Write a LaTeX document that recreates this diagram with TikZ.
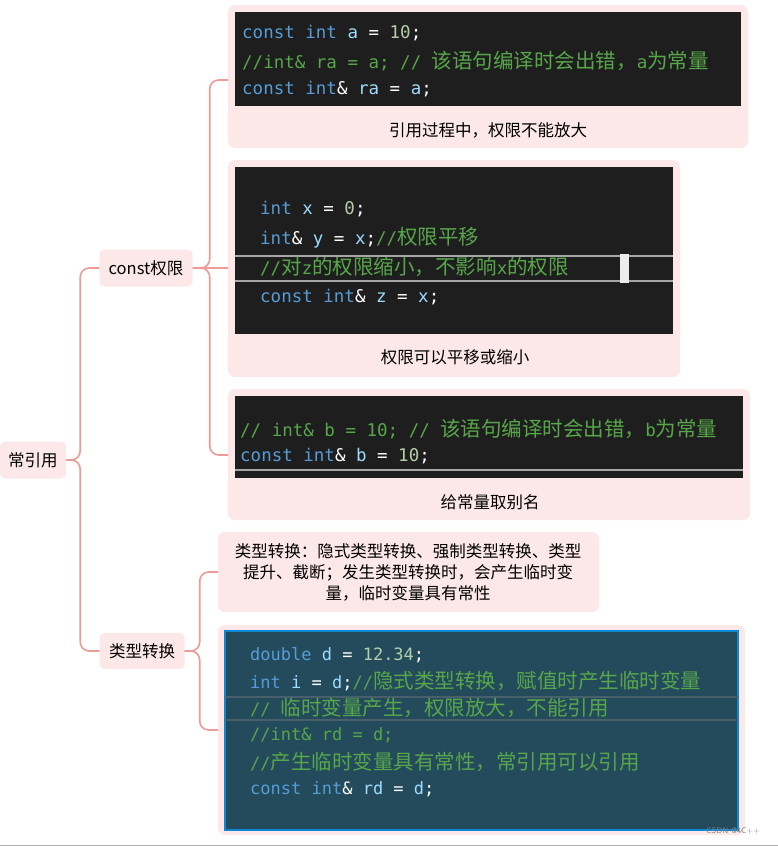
\documentclass[tikz,border=0pt]{standalone}
\usepackage{fontspec}
\setmonofont{DejaVu Sans Mono}
\newfontfamily\cjk{Noto Sans CJK SC}
\usetikzlibrary{positioning}
\definecolor{pinkfill}{HTML}{FCE8E8}
\definecolor{branchc}{HTML}{EE9A98}
\definecolor{codebg}{HTML}{1E1E1E}
\definecolor{tealbg}{HTML}{234B5C}
\definecolor{kw}{HTML}{569CD6}
\definecolor{idc}{HTML}{9CDCFE}
\definecolor{num}{HTML}{B5CEA8}
\definecolor{cmt}{HTML}{57A64A}
\newcommand{\zh}[1]{{\cjk\fontsize{20.5}{20}\selectfont #1}}
\newcommand{\K}[1]{\textcolor{kw}{#1}}
\newcommand{\I}[1]{\textcolor{idc}{#1}}
\newcommand{\N}[1]{\textcolor{num}{#1}}
\newcommand{\C}[1]{\textcolor{cmt}{#1}}

\begin{document}
\begin{tikzpicture}[x=1pt,y=-1pt,
    topic/.style={fill=pinkfill,rounded corners=5pt,inner sep=0pt,font=\cjk\fontsize{16.5}{18}\selectfont},
    card/.style={fill=pinkfill,rounded corners=7pt},
    code/.style={anchor=west,inner sep=0pt,text=white,font=\ttfamily\fontsize{17.5}{20}\selectfont},
    caption/.style={font=\cjk\fontsize{16.5}{21}\selectfont},
    branch/.style={draw=branchc,line width=1.6pt,rounded corners=9pt},
    scan/.style={draw=gray!70,line width=2pt}]
  \useasboundingbox (0,0) rectangle (778,846);

  % mind map topics
  \node[topic,minimum width=66pt,minimum height=37pt] (root) at (33,460) {常引用};
  \node[topic,minimum width=93pt,minimum height=37pt] (perm) at (146,268) {const权限};
  \node[topic,minimum width=85pt,minimum height=36pt] (conv) at (142,651) {类型转换};

  % cards
  \fill[card] (228,5) rectangle (748,148);
  \fill[codebg] (235,12) rectangle (741,106);
  \node[caption] (cap1) at (488,130) {引用过程中，权限不能放大};
  \coordinate (card1) at (228,80);

  \fill[card] (228,160) rectangle (680,377);
  \fill[codebg] (235,167) rectangle (673,334);
  \node[caption] (cap2) at (455,357) {权限可以平移或缩小};
  \coordinate (card2) at (228,268);

  \fill[card] (228,389) rectangle (750,520);
  \fill[codebg] (235,396) rectangle (743,478);
  \node[caption] (cap3) at (490,502) {给常量取别名};
  \coordinate (card3) at (228,455);

  \fill[card] (218,532) rectangle (599,612);
  \node[caption,align=center] (note) at (408,572) {类型转换：隐式类型转换、强制类型转换、类型\\提升、截断；发生类型转换时，会产生临时变\\量，临时变量具有常性};
  \coordinate (cardA) at (218,572);

  \fill[card] (218,625) rectangle (745,835);
  \draw[fill=tealbg,draw=cyan!70!blue,line width=1.5pt] (225,631) rectangle (738,830);
  \coordinate (cardB) at (218,730);

  % screenshot scan lines
  \draw[scan] (235,256) -- (673,256);
  \draw[scan] (235,281) -- (673,281);
  \fill[white!85!gray] (620,254) rectangle (629,283);
  \draw[scan] (235,470) -- (743,470);
  \draw[scan,draw=gray!40!tealbg] (225,697) -- (738,697);
  \draw[scan,draw=gray!40!tealbg] (225,720) -- (738,720);

  % code lines
  \node[code] (a1) at (242,33) {\K{const int} \I{a} = \N{10};};
  \node[code] (a2) at (242,61) {\C{//int\& ra = a; // \zh{该语句编译时会出错，}a\zh{为常量}}};
  \node[code] (a3) at (242,89) {\K{const int}\& \I{ra} = \I{a};};

  \node[code] (b1) at (260,209) {\K{int} \I{x} = \N{0};};
  \node[code] (b2) at (260,238) {\K{int}\& \I{y} = \I{x};\C{//\zh{权限平移}}};
  \node[code] (b3) at (260,267) {\C{//\zh{对}z\zh{的权限缩小，不影响}x\zh{的权限}}};
  \node[code] (b4) at (260,297) {\K{const int}\& \I{z} = \I{x};};

  \node[code] (c1) at (240,429) {\C{// int\& b = 10; // \zh{该语句编译时会出错，}b\zh{为常量}}};
  \node[code] (c2) at (240,456) {\K{const int}\& \I{b} = \N{10};};

  \node[code,font=\ttfamily\fontsize{17}{20}\selectfont] (d1) at (250,655) {\K{double} \I{d} = \N{12.34};};
  \node[code,font=\ttfamily\fontsize{17}{20}\selectfont] (d2) at (250,681) {\K{int} \I{i} = \I{d};\C{//\zh{隐式类型转换，赋值时产生临时变量}}};
  \node[code,font=\ttfamily\fontsize{17}{20}\selectfont] (d3) at (250,708) {\C{// \zh{临时变量产生，权限放大，不能引用}}};
  \node[code,font=\ttfamily\fontsize{17}{20}\selectfont] (d4) at (250,735) {\C{//int\& rd = d;}};
  \node[code,font=\ttfamily\fontsize{17}{20}\selectfont] (d5) at (250,762) {\C{//\zh{产生临时变量具有常性，常引用可以引用}}};
  \node[code,font=\ttfamily\fontsize{17}{20}\selectfont] (d6) at (250,789) {\K{const int}\& \I{rd} = \I{d};};

  % branches
  \draw[branch] (root.east) -- ++(14,0) |- (perm.west);
  \draw[branch] (root.east) -- ++(14,0) |- (conv.west);
  \draw[branch] (perm.east) -- ++(17,0) |- (card1);
  \draw[branch] (perm.east) -- (card2);
  \draw[branch] (perm.east) -- ++(17,0) |- (card3);
  \draw[branch] (conv.east) -- ++(15,0) |- (cardA);
  \draw[branch] (conv.east) -- ++(15,0) |- (cardB);

  \node[font=\sffamily\fontsize{8}{9}\selectfont,text=gray] (mark) at (733,831) {CSDN @4C++};
  \draw[gray!60,line width=1pt] (0,845) -- (778,845);
\end{tikzpicture}
\end{document}
